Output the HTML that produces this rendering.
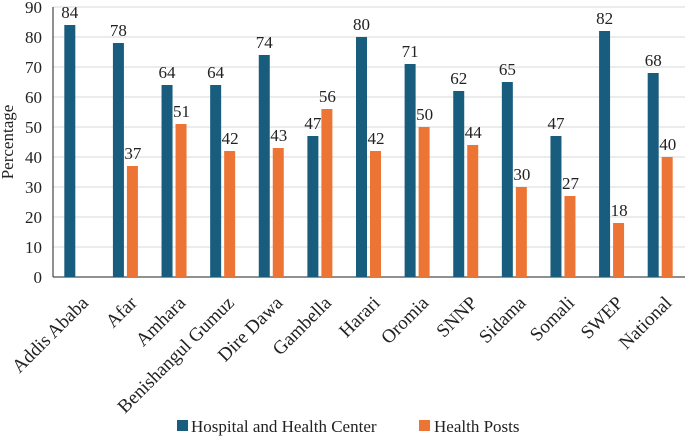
<!DOCTYPE html>
<html><head><meta charset="utf-8"><style>
body{margin:0;background:#fff}
svg{font-family:"Liberation Serif",serif}
</style></head><body>
<svg width="685" height="437" id="c"></svg>
<script>
const categories=["Addis Ababa","Afar","Amhara","Benishangul Gumuz","Dire Dawa","Gambella","Harari","Oromia","SNNP","Sidama","Somali","SWEP","National"];
const hospital=[84,78,64,64,74,47,80,71,62,65,47,82,68];
const posts=[null,37,51,42,43,56,42,50,44,30,27,18,40];
const ticks=[0,10,20,30,40,50,60,70,80,90];
const svg=document.getElementById('c');
const NS='http://www.w3.org/2000/svg';
const x0=53,x1=685,y0=277,y90=7;
const y=v=>y0-(v/90)*(y0-y90);
const bw=(x1-x0)/categories.length;
const cx=i=>x0+bw*(i+0.5);
function el(t,a,txt){const e=document.createElementNS(NS,t);for(const k in a)e.setAttribute(k,a[k]);if(txt!==undefined)e.textContent=txt;svg.appendChild(e);return e;}
ticks.forEach(t=>{
 if(t>0){const g=el('line',{x1:x0,x2:x1,y1:y(t),y2:y(t),stroke:'#d9d9d9','stroke-width':1});
 
 }
 const l=el('text',{x:x0-11,y:y(t)+6,'text-anchor':'end','font-size':17,fill:'#222'},t);
 
 
});
const ax=el('line',{x1:x0,x2:x0,y1:y90,y2:y0,stroke:'#222','stroke-width':1});


const xa=el('line',{x1:x0,x2:x1,y1:y0,y2:y0,stroke:'#222','stroke-width':1});


const yt=el('text',{x:13,y:142,'text-anchor':'middle','font-size':17,fill:'#222',transform:'rotate(-90 13 142)'},'Percentage');


categories.forEach((c,i)=>{
 const c0=cx(i);
 const b=el('rect',{x:c0-13,y:y(hospital[i]),width:11,height:y0-y(hospital[i]),fill:'#185d7e'});
 
 
 const bl=el('text',{x:c0-7.5,y:y(hospital[i])-7,'text-anchor':'middle','font-size':17,fill:'#222'},hospital[i]);
 
 
 if(posts[i]!==null){
  const p=el('rect',{x:c0+1,y:y(posts[i]),width:11,height:y0-y(posts[i]),fill:'#ec7535'});
  
  
  const pl=el('text',{x:c0+7,y:y(posts[i])-7,'text-anchor':'middle','font-size':17,fill:'#222'},posts[i]);
  
  
 }
 const t=el('text',{x:c0+12,y:y0+27,'text-anchor':'end','font-size':19,fill:'#222',transform:`rotate(-45 ${c0+12} ${y0+27})`},c);
 
 
});
const l1=el('rect',{x:177,y:420,width:11,height:11,fill:'#185d7e'});


const lt1=el('text',{x:191,y:432,'font-size':17,fill:'#222'},'Hospital and Health Center');


const l2=el('rect',{x:419,y:420,width:11,height:11,fill:'#ec7535'});


const lt2=el('text',{x:434,y:432,'font-size':17,fill:'#222'},'Health Posts');


</script>
</body></html>
